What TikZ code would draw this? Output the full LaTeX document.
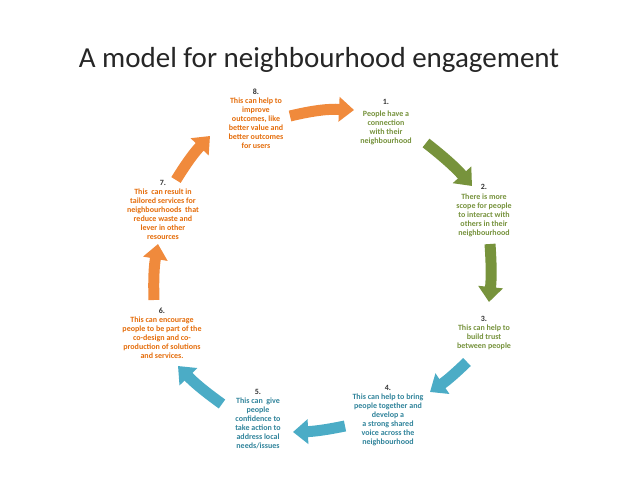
\documentclass[tikz,border=0pt]{standalone}
\usepackage{fontspec}
\setmainfont{Carlito}
\usetikzlibrary{arrows.meta}
\definecolor{orA}{HTML}{F08A3C}
\definecolor{grA}{HTML}{77933C}
\definecolor{tlA}{HTML}{4BACC6}
\definecolor{orT}{HTML}{E46C0A}
\definecolor{grT}{HTML}{76923C}
\definecolor{tlT}{HTML}{31849B}
\tikzset{
  lbl/.style={align=center, font=\bfseries\fontsize{8}{9}\selectfont, inner sep=0pt},
  num/.style={font=\bfseries\fontsize{8}{9}\selectfont, inner sep=0pt, text=black!80},
  fat/.style={line width=11pt, -{Triangle[width=24pt,length=15pt]}, draw=#1}
}
\begin{document}
\begin{tikzpicture}[x=1pt,y=-1pt]
\useasboundingbox (0,0) rectangle (638,478);
\node[font=\fontsize{29}{32}\selectfont, text=black!85] (title) at (319,60) {A model for neighbourhood engagement};
\node[num] (n8) at (256,92) {8.};
\node[lbl, text=orT, anchor=north] (t8) at (256,98) {This can help to\\improve\\outcomes, like\\better value and\\better outcomes\\for users};
\node[num] (n1) at (386,102) {1.};
\node[lbl, text=grT, anchor=north] (t1) at (386,111) {People have a\\connection\\with their\\neighbourhood};
\node[num] (n2) at (484,187) {2.};
\node[lbl, text=grT, anchor=north] (t2) at (484,194) {There is more\\scope for people\\to interact with\\others in their\\neighbourhood};
\node[num] (n3) at (484,319) {3.};
\node[lbl, text=grT, anchor=north] (t3) at (484,325) {This can help to\\build trust\\between people};
\node[num] (n4) at (388,388) {4.};
\node[lbl, text=tlT, anchor=north] (t4) at (388,394) {This can help to bring\\people together and\\develop a\\a strong shared\\voice across the\\neighbourhood};
\node[num] (n5) at (258,392) {5.};
\node[lbl, text=tlT, anchor=north] (t5) at (258,398) {This can~ give\\people\\confidence to\\take action to\\address local\\needs/issues};
\node[num] (n6) at (162,311) {6.};
\node[lbl, text=orT, anchor=north] (t6) at (162,317) {This can encourage\\people to be part of the\\co-design and co-\\production of solutions\\and services.};
\node[num] (n7) at (163,183) {7.};
\node[lbl, text=orT, anchor=north] (t7) at (163,189) {This~ can result in\\tailored services for\\neighbourhoods~ that\\reduce waste and\\lever in other\\resources};
\coordinate (a8s) at (290,116); \coordinate (a8e) at (354,110);
\coordinate (a1s) at (426,143); \coordinate (a1e) at (472,186);
\coordinate (a2s) at (490,244); \coordinate (a2e) at (489,302);
\coordinate (a3s) at (467,362); \coordinate (a3e) at (430,392);
\coordinate (a4s) at (345,426); \coordinate (a4e) at (293,432);
\coordinate (a5s) at (222,404); \coordinate (a5e) at (178,366);
\coordinate (a6s) at (154,300); \coordinate (a6e) at (158,244);
\coordinate (a7s) at (176,180); \coordinate (a7e) at (210,136);
\draw[fat=orA] (a8s) to[bend left=8] (a8e);
\draw[fat=grA] (a1s) to[bend left=5] (a1e);
\draw[fat=grA] (a2s) to[bend left=5] (a2e);
\draw[fat=tlA] (a3s) to[bend left=5] (a3e);
\draw[fat=tlA] (a4s) to[bend left=5] (a4e);
\draw[fat=tlA] (a5s) to[bend left=5] (a5e);
\draw[fat=orA] (a6s) to[bend left=6] (a6e);
\draw[fat=orA] (a7s) to[bend left=6] (a7e);
\end{tikzpicture}
\end{document}
